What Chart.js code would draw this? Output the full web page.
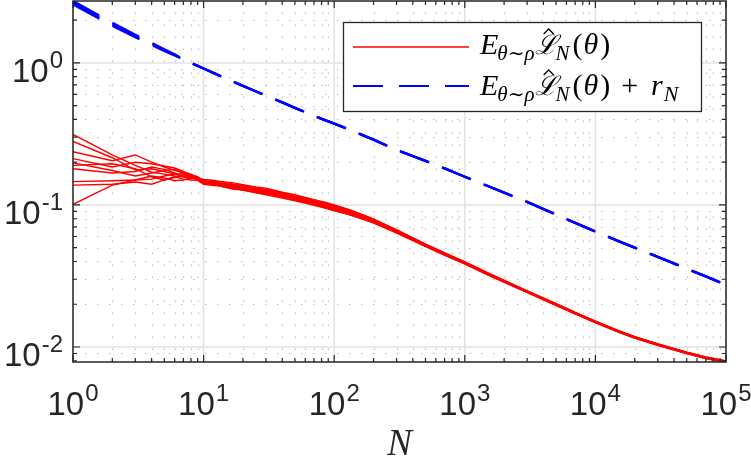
<!DOCTYPE html>
<html><head><meta charset="utf-8">
<script src="https://cdn.jsdelivr.net/npm/chart.js@4.4.0/dist/chart.umd.min.js"></script>
<style>html,body{margin:0;padding:0;background:#fff;}#wrap{width:751px;height:457px;}</style>
</head><body><div id="wrap"><canvas id="c" width="751" height="457"></canvas></div>
<script>
// sample sizes N (x values)
const sampleSizesHead = [1,2,3,4,5,6,7,8,9,10,12,14,17,20,25,30,40,50,60,70,85,100];
const sampleSizesTail = [130,170,200,300,500,700,1000,1500,2000,3000,5000,7000,10000,15000,20000,30000,50000,70000,100000];

// red runs: empirical loss, N = 1 .. 100
const redRun1  = [0.314,0.225,0.190,0.170,0.165,0.160,0.158,0.155,0.152,0.150,0.149,0.145,0.143,0.139,0.134,0.131,0.123,0.118,0.113,0.109,0.1045,0.1000];
const redRun2  = [0.280,0.215,0.176,0.180,0.172,0.165,0.160,0.162,0.156,0.148,0.145,0.146,0.140,0.137,0.133,0.128,0.122,0.116,0.112,0.108,0.103,0.0988];
const redRun3  = [0.237,0.205,0.225,0.200,0.185,0.175,0.168,0.160,0.155,0.151,0.148,0.141,0.139,0.137,0.130,0.128,0.121,0.115,0.111,0.1065,0.102,0.0978];
const redRun4  = [0.212,0.185,0.200,0.195,0.188,0.182,0.172,0.163,0.158,0.147,0.144,0.142,0.138,0.134,0.130,0.126,0.1195,0.114,0.110,0.1057,0.101,0.0969];
const redRun5  = [0.198,0.175,0.160,0.168,0.175,0.178,0.170,0.165,0.156,0.144,0.141,0.141,0.136,0.134,0.128,0.125,0.118,0.113,0.1086,0.1047,0.100,0.0959];
const redRun6  = [0.190,0.195,0.180,0.158,0.150,0.156,0.162,0.158,0.150,0.149,0.145,0.137,0.135,0.131,0.127,0.124,0.117,0.112,0.1075,0.1037,0.099,0.0949];
const redRun7  = [0.180,0.168,0.172,0.185,0.178,0.168,0.158,0.152,0.156,0.142,0.138,0.139,0.133,0.131,0.126,0.122,0.116,0.1105,0.1064,0.1026,0.098,0.094];
const redRun8  = [0.146,0.148,0.150,0.152,0.160,0.165,0.166,0.160,0.154,0.145,0.142,0.135,0.133,0.129,0.125,0.121,0.115,0.1095,0.1053,0.1016,0.097,0.093];
const redRun9  = [0.138,0.140,0.145,0.140,0.150,0.158,0.152,0.150,0.149,0.140,0.137,0.136,0.131,0.127,0.123,0.120,0.1135,0.1085,0.1043,0.1005,0.096,0.092];
const redRun10 = [0.101,0.138,0.150,0.160,0.155,0.148,0.150,0.155,0.151,0.143,0.140,0.134,0.129,0.128,0.122,0.118,0.112,0.107,0.103,0.0995,0.095,0.0911];
// red runs beyond N = 100 (runs draw together)
const redTail1 = [0.0927,0.0846,0.0794,0.0669,0.0531,0.0460,0.0397,0.0332,0.0294,0.0248,0.0202,0.0175,0.0152,0.01305,0.01184,0.01052,0.00921,0.0085,0.00797];
const redTail2 = [0.0909,0.0832,0.0783,0.0661,0.0526,0.0456,0.0394,0.0329,0.0292,0.02465,0.0200,0.0174,0.01509,0.01298,0.01177,0.01046,0.00915,0.00845,0.00793];
const redTail3 = [0.0891,0.0817,0.0771,0.0653,0.0521,0.0452,0.0391,0.0327,0.0290,0.0245,0.0199,0.0173,0.0150,0.0129,0.0117,0.0104,0.0091,0.0084,0.00788];
const redTail4 = [0.0873,0.0802,0.0759,0.0645,0.0516,0.0448,0.0388,0.0325,0.0288,0.02435,0.0198,0.0172,0.01491,0.01282,0.01163,0.01034,0.00905,0.00835,0.00783];
const redTail5 = [0.0855,0.0788,0.0748,0.0637,0.0511,0.0444,0.0385,0.0322,0.0286,0.0242,0.0196,0.0171,0.01482,0.01275,0.01156,0.01028,0.00899,0.0083,0.00779];

// blue bound: N = 1 .. 6 for three runs, then common values N = 7 .. 1e5
const blueHeadHi  = [2.73,1.92,1.58,1.38,1.245,1.15];
const blueHeadMid = [2.66,1.87,1.55,1.36,1.230,1.14];
const blueHeadLo  = [2.58,1.83,1.52,1.34,1.215,1.13];
const blueTail = [1.06,1.00,0.955,0.914,0.847,0.794,0.735,0.690,0.632,0.589,0.527,0.483,0.450,0.425,0.396,0.374,
  0.340,0.307,0.288,0.244,0.204,0.181,0.158,0.136,0.122,0.105,0.0855,0.0748,0.065,0.0557,0.050,0.0431,0.0356,0.0314,0.0274];

// axis ticks (powers of ten)
const xTickExponents = [0,1,2,3,4,5];
const yTickExponents = [-2,-1,0];
const xAxisLabel = 'N';

const allN = sampleSizesHead.concat(sampleSizesTail);
const redRuns = [redRun1,redRun2,redRun3,redRun4,redRun5,redRun6,redRun7,redRun8,redRun9,redRun10];
const redTails = [redTail1,redTail1,redTail2,redTail2,redTail3,redTail3,redTail4,redTail4,redTail5,redTail5];
const toPts = ys => ys.map((v,i)=>({x:allN[i], y:v}));

const datasets = [];
redRuns.forEach((r,i)=>{
  datasets.push({label:'red'+(i+1), data:toPts(r.concat(redTails[i])), borderColor:'#ff0000', borderWidth:1.4, pointRadius:0, fill:false});
});
[blueHeadHi, blueHeadMid, blueHeadLo].forEach((h,i)=>{
  datasets.push({label:'blue'+(i+1), data:toPts(h.concat(blueTail)), borderColor:'#0000ff', borderWidth:2.4, borderDash:[30,15], pointRadius:0, fill:false});
});

const INK = '#262626';
function drawSup(ctx, base, exp, x, y, align){
  const fb = '33px "Liberation Sans", Arial, sans-serif';
  const fs = '24px "Liberation Sans", Arial, sans-serif';
  ctx.font = fb; const wb = ctx.measureText(base).width;
  ctx.font = fs; const ws = ctx.measureText(exp).width;
  const tot = wb + 1 + ws;
  let x0 = align === 'center' ? x - tot/2 : x - tot;
  ctx.textAlign = 'left'; ctx.textBaseline = 'alphabetic'; ctx.fillStyle = INK;
  ctx.font = fb; ctx.fillText(base, x0, y);
  ctx.font = fs; ctx.fillText(exp, x0 + wb + 1, y - 14);
}

function drawMathLine(ctx, x, y, parts){
  ctx.textAlign='left'; ctx.textBaseline='alphabetic'; ctx.fillStyle='#000';
  for (const p of parts){
    ctx.font = p.f;
    x += (p.pre||0);
    ctx.fillText(p.t, x, y + (p.dy||0));
    const w = ctx.measureText(p.t).width;
    if (p.hat){
      const cx = x + w*0.6, ty = y - 25;
      ctx.save(); ctx.strokeStyle='#000'; ctx.lineWidth=1.3; ctx.beginPath();
      ctx.moveTo(cx-5, ty+5); ctx.lineTo(cx, ty); ctx.lineTo(cx+5, ty+5); ctx.stroke(); ctx.restore();
    }
    x += w + (p.post||0);
  }
  return x;
}

const deco = {
  id:'deco',
  beforeDatasetsDraw(chart){
    const ctx = chart.ctx, {left,right,top,bottom} = chart.chartArea;
    const xs = chart.scales.x, ys = chart.scales.y;
    ctx.save();
    ctx.strokeStyle = 'rgba(150,150,150,0.6)'; ctx.lineWidth = 1.2; ctx.setLineDash([1.5,10.5]);
    for (let d=0; d<5; d++) for (let m=2; m<=9; m++){
      const px = Math.round(xs.getPixelForValue(m*Math.pow(10,d)))+0.5;
      ctx.beginPath(); ctx.moveTo(px,bottom); ctx.lineTo(px,top); ctx.stroke();
    }
    for (let d=-3; d<=0; d++) for (let m=2; m<=9; m++){
      const v = m*Math.pow(10,d); if (v < ys.min || v > ys.max) continue;
      const py = Math.round(ys.getPixelForValue(v))+0.5;
      ctx.beginPath(); ctx.moveTo(left,py); ctx.lineTo(right,py); ctx.stroke();
    }
    ctx.setLineDash([]); ctx.strokeStyle = '#e2e2e2'; ctx.lineWidth = 1.5;
    xTickExponents.forEach(e=>{ const px = xs.getPixelForValue(Math.pow(10,e)); ctx.beginPath(); ctx.moveTo(px,bottom); ctx.lineTo(px,top); ctx.stroke(); });
    yTickExponents.forEach(e=>{ const py = ys.getPixelForValue(Math.pow(10,e)); ctx.beginPath(); ctx.moveTo(left,py); ctx.lineTo(right,py); ctx.stroke(); });
    ctx.restore();
  },
  afterDatasetsDraw(chart){
    const ctx = chart.ctx, {left,right,top,bottom} = chart.chartArea;
    const xs = chart.scales.x, ys = chart.scales.y;
    ctx.save();
    ctx.strokeStyle = INK; ctx.lineWidth = 1.2;
    const xt = [], yt = [];
    for (let d=0; d<=5; d++) for (let m=1; m<=9; m++){ const v=m*Math.pow(10,d); if (v<=1e5) xt.push([v, m===1]); }
    for (let d=-3; d<=0; d++) for (let m=1; m<=9; m++){ const v=m*Math.pow(10,d); if (v>=ys.min && v<=ys.max) yt.push([v, m===1]); }
    ctx.beginPath();
    xt.forEach(([v,maj])=>{ const px=xs.getPixelForValue(v), L = maj?7:4;
      ctx.moveTo(px,bottom); ctx.lineTo(px,bottom-L); ctx.moveTo(px,top); ctx.lineTo(px,top+L); });
    yt.forEach(([v,maj])=>{ const py=ys.getPixelForValue(v), L = maj?7:4;
      ctx.moveTo(left,py); ctx.lineTo(left+L,py); ctx.moveTo(right,py); ctx.lineTo(right-L,py); });
    ctx.stroke();
    ctx.lineWidth = 1.5; ctx.strokeRect(left, top, right-left, bottom-top);
    xTickExponents.forEach(e=>{ drawSup(ctx, '10', String(e), xs.getPixelForValue(Math.pow(10,e)), bottom+53, 'center'); });
    yTickExponents.forEach(e=>{ drawSup(ctx, '10', String(e), left-10, ys.getPixelForValue(Math.pow(10,e))+19, 'right'); });
    ctx.font = 'italic 37px "Liberation Serif", "Times New Roman", serif'; ctx.fillStyle = INK;
    ctx.textAlign = 'center'; ctx.textBaseline = 'alphabetic';
    ctx.fillText(xAxisLabel, (left+right)/2, 455);
    // legend
    ctx.fillStyle = '#fff'; ctx.fillRect(343,22,359,89);
    ctx.strokeStyle = INK; ctx.lineWidth = 1.3; ctx.strokeRect(343.5,22.5,358,89);
    ctx.strokeStyle = '#ff0000'; ctx.lineWidth = 1.3; ctx.beginPath(); ctx.moveTo(353,47); ctx.lineTo(469,47); ctx.stroke();
    ctx.strokeStyle = '#0000ff'; ctx.lineWidth = 2; ctx.setLineDash([30,16]); ctx.beginPath(); ctx.moveTo(353,86); ctx.lineTo(469,86); ctx.stroke();
    ctx.setLineDash([]);
    const SI = 'italic 30px "Liberation Serif", "DejaVu Serif", serif';
    const SR = '30px "Liberation Serif", "DejaVu Serif", serif';
    const SS = 'italic 21px "Liberation Serif", "DejaVu Serif", serif';
    const SSR = '20px "DejaVu Serif", serif';
    const CAL = 'italic 27px "DejaVu Serif", serif';
    const common = [
      {t:'E', f:SI},
      {t:'θ', f:SS, dy:6, pre:-1},
      {t:'∼', f:SSR, dy:6},
      {t:'ρ', f:SS, dy:6},
      {t:'ℒ', f:CAL, hat:true, pre:1},
      {t:'N', f:SS, dy:6, pre:-2},
      {t:'(', f:SR, pre:3},
      {t:'θ', f:SI, pre:1},
      {t:')', f:SR, pre:2}
    ];
    drawMathLine(ctx, 480, 54, common);
    drawMathLine(ctx, 480, 95, common.concat([
      {t:'+', f:SR, pre:11},
      {t:'r', f:SI, pre:13},
      {t:'N', f:'italic 22px "Liberation Serif", "DejaVu Serif", serif', dy:6, pre:1}
    ]));
    ctx.restore();
  }
};

new Chart(document.getElementById('c').getContext('2d'), {
  type:'line',
  data:{datasets},
  options:{
    responsive:false, animation:false, devicePixelRatio:1, parsing:true,
    layout:{padding:{left:73,right:25,top:1,bottom:95}},
    plugins:{legend:{display:false}, tooltip:{enabled:false}},
    elements:{point:{radius:0}, line:{tension:0}},
    scales:{
      x:{type:'logarithmic', min:1, max:1e5, display:false},
      y:{type:'logarithmic', min:0.00784, max:2.73, display:false}
    }
  },
  plugins:[deco]
});
</script></body></html>
